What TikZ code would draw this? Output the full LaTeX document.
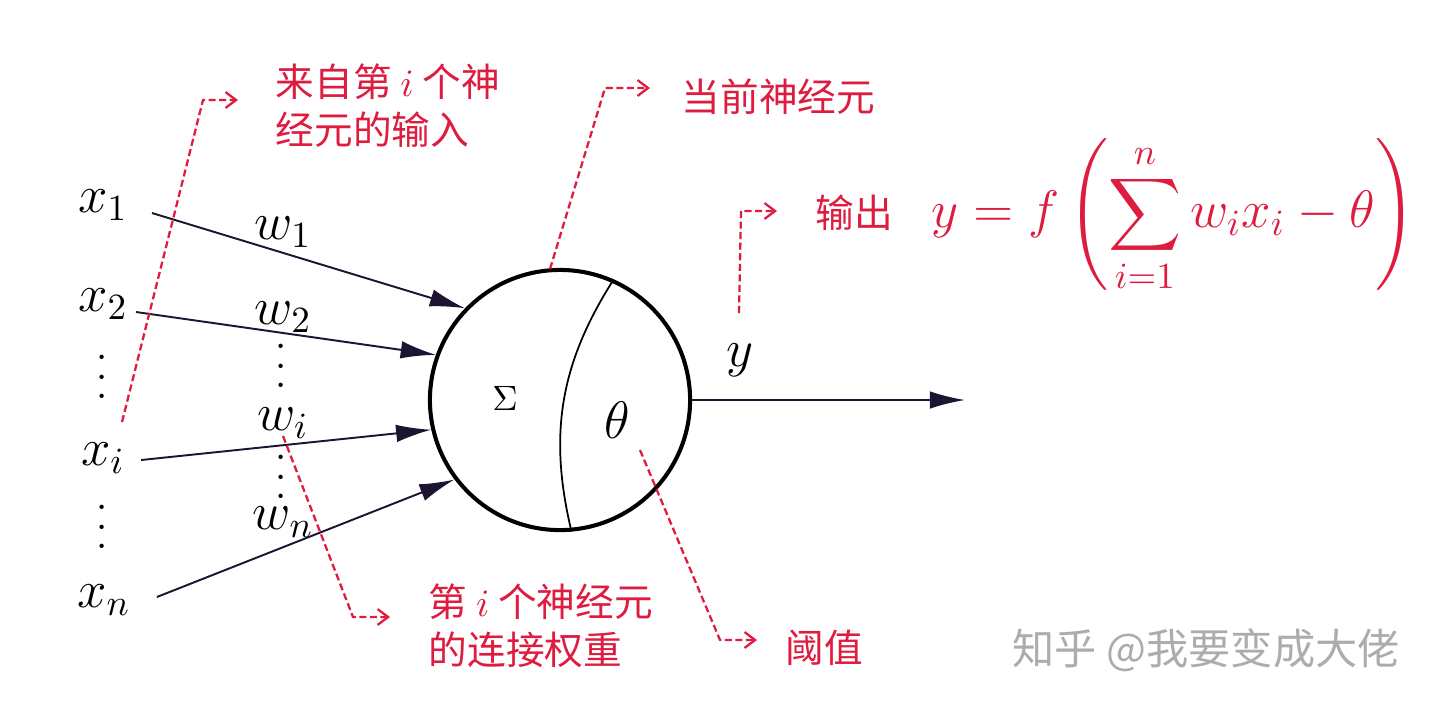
\RequirePackage{fix-cm}
\documentclass[tikz,border=0pt]{standalone}
\usepackage{amsmath}
\usepackage{fontspec}
\newfontfamily\cjk{Noto Sans CJK SC}
\usetikzlibrary{arrows.meta}
\definecolor{notered}{RGB}{222,28,64}
\definecolor{inkblue}{RGB}{28,20,50}
\definecolor{wmgray}{RGB}{172,172,172}
\newcommand{\tallvdots}{\vbox{\baselineskip5.5pt\lineskiplimit0pt\hbox{.}\hbox{.}\hbox{.}}}

\begin{document}
\begin{tikzpicture}[x=0.01cm,y=-0.01cm,
    lbl/.style={font=\fontsize{15}{18}\selectfont,inner sep=1pt},
    note/.style={font=\fontsize{11}{13.6}\selectfont\cjk,text=notered,align=left,anchor=west,inner sep=0pt},
    link/.style={draw=inkblue,line width=0.55pt,-{Latex[length=10pt,width=5pt]}},
    callout/.style={draw=notered,line width=0.65pt,dash pattern=on 2pt off 1pt,-{Straight Barb[length=3pt,width=4.5pt]}}]
\useasboundingbox (0,0) rectangle (1440,708);
\node[circle,draw,line width=1.15pt,minimum size=2.6cm,inner sep=0pt](neuron)at(560,400){};
\draw[line width=0.5pt] (neuron.66) to[bend right=23] (neuron.-85);
\node (sig) at (505,398) {$\Sigma$};
\node[lbl] (th) at (617,420) {$\theta$};
\node[lbl] (x1) at (103,205) {$x_1$};
\node[lbl] (x2) at (103,304) {$x_2$};
\node[lbl] (vx1) at (102,377) {\tallvdots};
\node[lbl] (xi) at (103,458) {$x_i$};
\node[lbl] (vx2) at (102,527) {\tallvdots};
\node[lbl] (xn) at (104,600) {$x_n$};
\node[lbl] (w1) at (283,232) {$w_1$};
\node[lbl] (w2) at (283,317) {$w_2$};
\node[lbl] (vw1) at (281,366) {\tallvdots};
\node[lbl] (wi) at (283,423) {$w_i$};
\node[lbl] (vw2) at (281,477) {\tallvdots};
\node[lbl] (wn) at (283,522) {$w_n$};
\draw[link] ([shift={(20,8)}]x1.east) -- (neuron.136);
\draw[link] ([shift={(4,8)}]x2.east) -- (neuron.160);
\draw[link] ([shift={(12,2)}]xi.east) -- (neuron.193);
\draw[link] ([shift={(22,-3)}]xn.east) -- (neuron.217);
\coordinate (yend) at (965,400);
\draw[link] (neuron.east) -- (yend);
\node[lbl] (yout) at (740,360) {$y$};
\node[note] (inlbl) at (275,106) {来自第 $i$ 个神\\经元的输入};
\node[note] (curlbl) at (681,97) {当前神经元};
\node[note,font=\fontsize{11}{13.6}\selectfont\cjk] (outlbl) at (815,216) {输出\hspace{11pt}{\fontsize{15}{18}\selectfont$\displaystyle y=f\left(\sum_{i=1}^{n}w_ix_i-\theta\right)$}};
\node[note] (wlbl) at (428,626) {第 $i$ 个神经元\\的连接权重};
\node[note] (thlbl) at (785,648) {阈值};
\coordinate (a1) at (122,422); \coordinate (b1) at (203,100); \coordinate (e1) at (238,100);
\draw[callout] (a1) -- (b1) -- (e1);
\coordinate (a2) at (550,269); \coordinate (b2) at (605,88); \coordinate (e2) at (650,88);
\draw[callout] (a2) -- (b2) -- (e2);
\coordinate (a3) at (739,313); \coordinate (b3) at (741,211); \coordinate (e3) at (777,211);
\draw[callout] (a3) -- (b3) -- (e3);
\coordinate (a4) at (283,436); \coordinate (b4) at (353,617); \coordinate (e4) at (390,617);
\draw[callout] (a4) -- (b4) -- (e4);
\coordinate (a5) at (640,450); \coordinate (b5) at (720,640); \coordinate (e5) at (757,640);
\draw[callout] (a5) -- (b5) -- (e5);
\node[font=\fontsize{12}{14}\selectfont\cjk,text=wmgray,anchor=west,inner sep=0pt] (mark) at (1012,650) {知乎 @我要变成大佬};
\end{tikzpicture}
\end{document}
